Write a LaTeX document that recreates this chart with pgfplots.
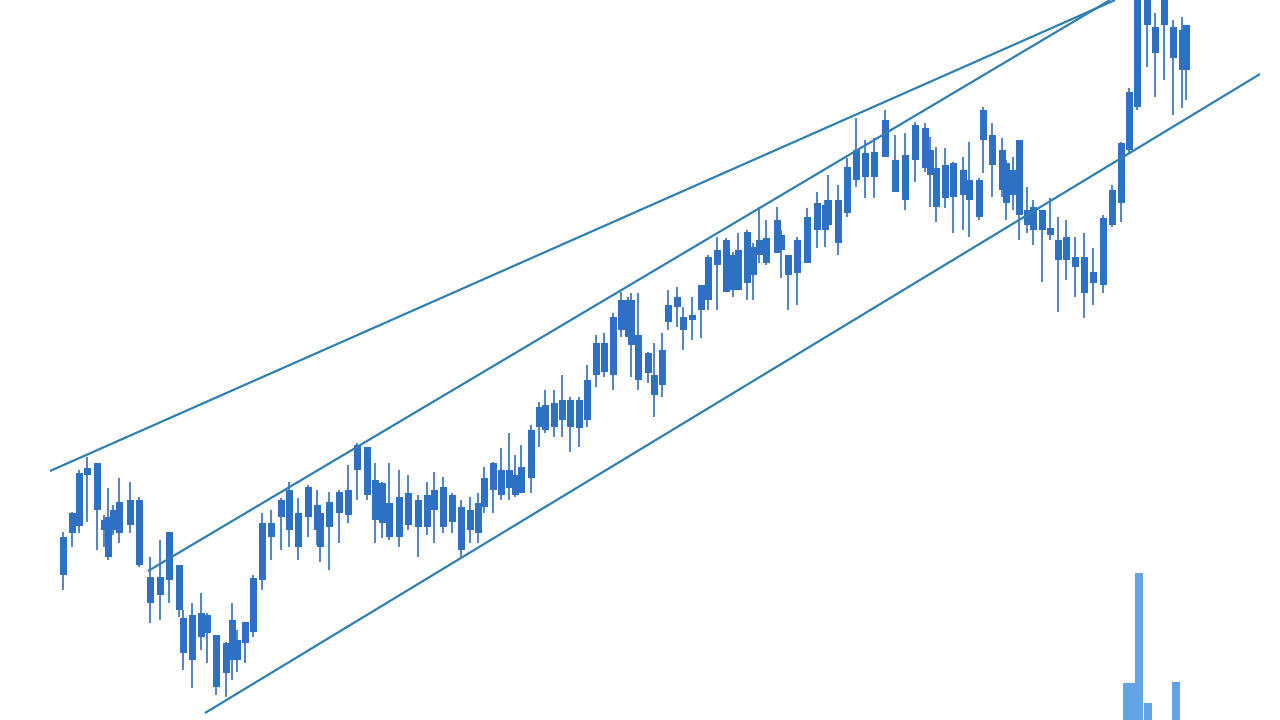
\documentclass[border=0pt]{standalone}
\usepackage{pgfplots}
\usepackage{pgfplotstable}
\pgfplotsset{compat=1.18}

% candles in screen positions (y grows downwards): x, body top, body bottom, wick top, wick bottom
\pgfplotstableread{
x bt bb wt wb
63 537 575 532 590
72 513 533 512 547
79 473 526 470 533
87 468 475 457 522
97 463 510 463 550
104 520 530 515 547
108 517 557 488 560
113 510 530 505 535
119 502 533 478 543
130 500 525 482 533
139 500 565 497 567
150 577 603 557 623
160 577 595 540 620
169 532 580 532 603
179 565 610 565 617
183 618 653 610 670
192 615 660 603 688
201 613 637 593 650
207 615 633 613 663
216 635 687 635 695
226 643 673 642 697
232 620 660 603 680
237 640 660 630 672
245 622 643 622 663
253 578 632 575 637
262 523 580 513 590
271 523 537 510 560
281 500 517 498 550
289 490 530 482 547
298 513 547 498 560
308 487 517 485 537
317 505 530 490 545
320 513 547 513 562
329 502 527 492 570
339 492 513 490 543
348 490 515 465 523
357 445 470 443 500
367 447 495 447 500
375 480 520 463 543
382 483 523 482 538
389 503 537 463 540
399 497 537 470 547
408 493 525 475 530
418 500 527 495 557
427 495 527 482 535
434 490 510 472 543
443 487 527 477 533
452 495 522 493 533
461 507 550 500 557
470 510 530 497 543
478 503 533 493 543
484 478 507 467 513
493 463 490 462 513
501 470 495 448 500
509 470 488 433 500
515 475 495 455 497
521 467 493 445 493
531 430 478 425 493
539 407 427 402 447
545 405 430 390 433
554 403 427 390 437
562 400 420 375 437
570 400 427 397 452
579 400 428 397 447
587 380 420 365 427
596 343 375 335 387
604 343 372 333 377
613 317 375 313 390
621 300 330 292 337
628 300 337 297 337
631 300 345 293 377
638 335 380 293 390
648 353 373 352 383
654 375 395 343 417
662 350 385 333 397
668 305 322 290 330
677 297 307 287 327
683 317 330 307 350
692 315 320 297 340
701 285 310 285 338
708 257 300 255 310
717 250 265 237 310
726 240 292 238 292
733 255 290 252 297
738 250 290 233 290
747 232 283 230 300
753 247 275 243 300
759 240 255 207 263
766 238 263 220 265
777 220 253 207 253
781 235 250 230 278
788 255 275 255 310
797 240 273 237 305
807 217 263 208 263
817 203 230 192 248
825 205 230 200 247
828 200 225 175 227
838 200 243 185 255
847 167 213 158 217
856 150 180 118 187
865 153 177 140 198
874 152 177 138 198
885 120 157 110 157
895 160 192 135 192
905 155 200 133 210
915 125 160 122 182
925 128 168 123 172
930 150 175 137 207
936 168 207 147 222
945 165 198 148 208
953 163 197 162 233
963 170 195 157 230
969 180 200 142 237
979 180 217 178 220
983 110 140 107 173
992 135 165 123 197
1002 150 190 138 197
1006 163 203 160 220
1013 170 195 157 210
1019 140 215 140 240
1027 210 225 187 233
1033 207 230 200 245
1042 210 230 210 282
1050 228 235 198 240
1058 240 260 217 312
1066 237 260 220 280
1075 257 267 237 297
1084 257 293 233 318
1093 272 283 248 305
1103 218 285 215 293
1112 190 225 185 227
1121 143 203 142 222
1129 92 150 88 153
1137 0 107 0 110
1147 0 25 0 67
1155 27 53 13 97
1164 0 25 0 80
1173 27 58 20 115
1182 30 70 17 108
1186 25 70 25 100
}\candles

\pgfplotstableread{
x top
1127 683
1131 683
1139 573
1148 703
1176 682
}\volume

\definecolor{bodyc}{RGB}{46,112,196}
\definecolor{wickc}{RGB}{85,135,198}
\definecolor{trendc}{RGB}{48,128,180}
\definecolor{volc}{RGB}{100,163,230}

\begin{document}
\begin{tikzpicture}
\useasboundingbox (0,0) rectangle (12.8cm,7.2cm);
\begin{axis}[
    at={(0,0)}, anchor=south west,
    scale only axis,
    width=12.8cm, height=7.2cm,
    xmin=0, xmax=1280,
    ymin=0, ymax=720,
    y dir=reverse,
    hide axis,
]
% volume
\addplot[draw=none, mark=none,
    error bars/.cd, y dir=both, y explicit, error mark=none,
    error bar style={draw=volc, line width=0.75mm}]
    table[x=x, y expr=720, y error minus expr=720-\thisrow{top}, y error plus expr=0] {\volume};
% wicks
\addplot[draw=none, mark=none,
    error bars/.cd, y dir=both, y explicit, error mark=none,
    error bar style={draw=wickc, line width=0.2mm}]
    table[x=x, y=wt, y error plus expr=\thisrow{wb}-\thisrow{wt}, y error minus expr=0] {\candles};
% bodies
\addplot[draw=none, mark=none,
    error bars/.cd, y dir=both, y explicit, error mark=none,
    error bar style={draw=bodyc, line width=0.7mm}]
    table[x=x, y=bt, y error plus expr=\thisrow{bb}-\thisrow{bt}, y error minus expr=0] {\candles};
% trend lines
\addplot[trendc, line width=0.6pt] coordinates {(50,471) (1115,0)};
\addplot[trendc, line width=0.6pt] coordinates {(148,571) (1110,0)};
\addplot[trendc, line width=0.6pt] coordinates {(205,713) (1260,74)};
\end{axis}
\end{tikzpicture}
\end{document}
